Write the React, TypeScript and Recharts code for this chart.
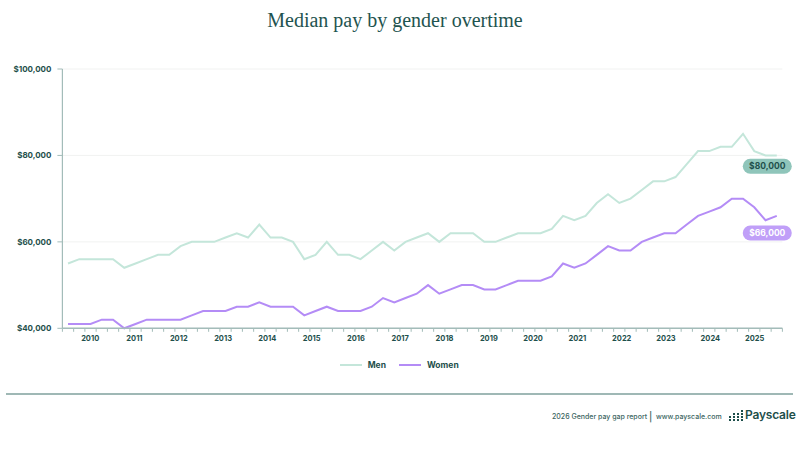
import { LineChart, Line, XAxis, YAxis, CartesianGrid, Legend, LabelList } from 'recharts';

// quarterly medians, 2010 Q1 .. 2025 Q4 (in $ thousands)
const YEARS = [2010, 2011, 2012, 2013, 2014, 2015, 2016, 2017, 2018, 2019, 2020, 2021, 2022, 2023, 2024, 2025];
const QUARTERS = ['Q1', 'Q2', 'Q3', 'Q4'];

const MEN = [
    55, 56, 56, 56, 56, 54, 55, 56, 57, 57, 59, 60, 60, 60, 61, 62,
    61, 64, 61, 61, 60, 56, 57, 60, 57, 57, 56, 58, 60, 58, 60, 61,
    62, 60, 62, 62, 62, 60, 60, 61, 62, 62, 62, 63, 66, 65, 66, 69,
    71, 69, 70, 72, 74, 74, 75, 78, 81, 81, 82, 82, 85, 81, 80, 80,
];

const WOMEN = [
    41, 41, 41, 42, 42, 40, 41, 42, 42, 42, 42, 43, 44, 44, 44, 45,
    45, 46, 45, 45, 45, 43, 44, 45, 44, 44, 44, 45, 47, 46, 47, 48,
    50, 48, 49, 50, 50, 49, 49, 50, 51, 51, 51, 52, 55, 54, 55, 57,
    59, 58, 58, 60, 61, 62, 62, 64, 66, 67, 68, 70, 70, 68, 65, 66,
];

const Y_TICKS = [40000, 60000, 80000, 100000];

const PERIODS = YEARS.flatMap((y) => QUARTERS.map((q) => `${y} ${q}`));

const data = PERIODS.map((period, i) => ({
    i,
    period,
    men: MEN[i] * 1000,
    women: WOMEN[i] * 1000,
}));

const LAST = data.length - 1;

// small marks sit between the points, year labels centred on each year
const minorTicks = Array.from({ length: data.length + 1 }, (_, k) => k - 0.5);
const yearTicks = YEARS.map((y) => ({ pos: ((y - YEARS[0] + 0.5) * LAST) / YEARS.length, label: String(y) }));

const TEAL = '#1e4f4b';
const AXIS = '#a3bcb9';
const FONT = 'Inter, "Open Sans", sans-serif';

const fmt = (v: number) => '$' + v.toLocaleString('en-US');

function XTick(props: any) {
    const { x, y, payload } = props;
    const year = yearTicks.find((t) => Math.abs(t.pos - payload.value) < 1e-6);
    if (year) {
        return (
            <text x={x} y={y + 13} textAnchor="middle" fill={TEAL} fontSize={7.5} fontWeight={700} fontFamily={FONT}>
                {year.label}
            </text>
        );
    }
    return <line x1={x} x2={x} y1={y} y2={y + 3.5} stroke={AXIS} strokeWidth={1} />;
}

function pill(fill: string, color: string, dy: number) {
    return (props: any) => {
        const { x, y, index, value } = props;
        if (index !== LAST) return null;
        const cx = x - 9.5;
        const cy = y + dy;
        return (
            <g>
                <rect x={cx - 24.5} y={cy - 7.5} width={49} height={15} rx={7.5} fill={fill} />
                <text
                    x={cx}
                    y={cy}
                    textAnchor="middle"
                    dominantBaseline="central"
                    fill={color}
                    fontSize={8.5}
                    fontWeight={700}
                    fontFamily={FONT}
                >
                    {fmt(value)}
                </text>
            </g>
        );
    };
}

function LegendContent({ payload }: any) {
    return (
        <div style={{ height: 20, display: 'flex', justifyContent: 'center', alignItems: 'center', gap: 13, paddingLeft: 16 }}>
            {(payload || []).map((p: any) => (
                <div key={p.value} style={{ display: 'flex', alignItems: 'center', gap: 6 }}>
                    <span style={{ width: 22, height: 2, background: p.color, display: 'inline-block' }} />
                    <span style={{ fontFamily: FONT, fontSize: 8.5, fontWeight: 700, color: TEAL }}>{p.value}</span>
                </div>
            ))}
        </div>
    );
}

function Logo() {
    const cols = [2, 3, 3, 4];
    return (
        <div style={{ position: 'absolute', left: 729, top: 407, display: 'flex', alignItems: 'center', gap: 1 }}>
            <svg width={15} height={12}>
                {cols.map((n, c) =>
                    Array.from({ length: n }, (_, r) => (
                        <rect key={`${c}-${r}`} x={c * 4} y={10 - r * 3} width={2} height={2} fill={TEAL} />
                    ))
                )}
            </svg>
            <span style={{ fontFamily: FONT, fontSize: 12, fontWeight: 600, color: TEAL, letterSpacing: -0.2 }}>Payscale</span>
        </div>
    );
}

export default function App() {
    return (
        <div style={{ position: 'absolute', left: 0, top: 0, width: 800, height: 455, background: '#fff', overflow: 'hidden' }}>
            <div
                style={{
                    position: 'absolute',
                    top: 9,
                    left: 0,
                    width: 790,
                    textAlign: 'center',
                    fontFamily: '"Liberation Serif", serif',
                    fontSize: 20,
                    color: '#1f5450',
                }}
            >
                Median pay by gender overtime
            </div>

            <div style={{ position: 'absolute', left: 0, top: 0 }}>
                <LineChart width={800} height={380} data={data} margin={{ top: 69, right: 17.6, left: 0, bottom: 5 }}>
                    <CartesianGrid horizontal vertical={false} stroke="#f1f2f1" />
                    <XAxis
                        dataKey="i"
                        type="number"
                        domain={[-0.5, LAST + 0.5]}
                        ticks={[...minorTicks, ...yearTicks.map((t) => t.pos)]}
                        interval={0}
                        tick={<XTick />}
                        tickLine={false}
                        tickSize={0}
                        tickMargin={0}
                        height={26.7}
                        axisLine={{ stroke: AXIS, strokeWidth: 1.5 }}
                    />
                    <YAxis
                        type="number"
                        domain={[40000, 100000]}
                        ticks={Y_TICKS}
                        width={62.4}
                        tickSize={5}
                        tickMargin={6}
                        tickLine={{ stroke: AXIS }}
                        axisLine={{ stroke: AXIS, strokeWidth: 1.2 }}
                        tickFormatter={fmt}
                        tick={{ fill: TEAL, fontSize: 8, fontWeight: 700, fontFamily: FONT }}
                    />
                    <Legend verticalAlign="bottom" content={<LegendContent />} />
                    <Line
                        type="linear"
                        dataKey="men"
                        name="Men"
                        stroke="#c4e6da"
                        strokeWidth={2}
                        dot={false}
                        isAnimationActive={false}
                    >
                        <LabelList dataKey="men" content={pill('#8fc5ba', TEAL, 10.8)} />
                    </Line>
                    <Line
                        type="linear"
                        dataKey="women"
                        name="Women"
                        stroke="#b48cf6"
                        strokeWidth={2}
                        dot={false}
                        isAnimationActive={false}
                    >
                        <LabelList dataKey="women" content={pill('#c09ff8', '#ffffff', 17)} />
                    </Line>
                </LineChart>
            </div>

            <div style={{ position: 'absolute', left: 6, top: 393, width: 787, height: 1.5, background: '#9fb8b5' }} />

            <div
                style={{
                    position: 'absolute',
                    left: 552,
                    top: 411,
                    fontFamily: FONT,
                    fontSize: 7,
                    fontWeight: 500,
                    color: '#3b6561',
                    whiteSpace: 'nowrap',
                    lineHeight: '12px',
                }}
            >
                2026 Gender pay gap report <span style={{ fontSize: 9.5, verticalAlign: -1 }}>|</span>&nbsp; www.payscale.com
            </div>
            <Logo />
        </div>
    );
}
